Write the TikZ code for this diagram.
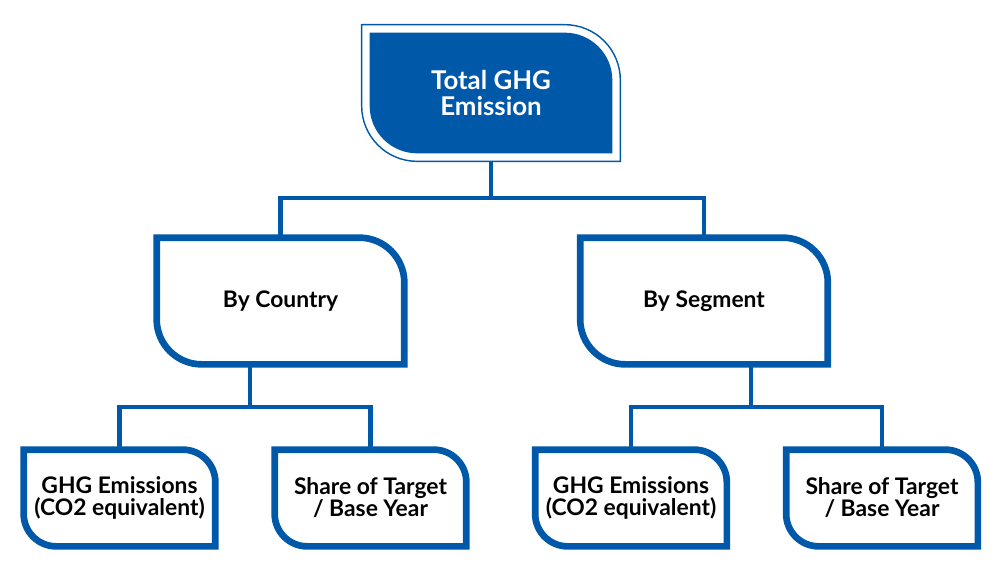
\documentclass[tikz,border=0pt]{standalone}
\usepackage{fontspec}
\setmainfont{Lato}
\usetikzlibrary{backgrounds}
\definecolor{ghgblue}{RGB}{0,88,168}

\begin{document}
\begin{tikzpicture}[
  x=0.02cm, y=-0.02cm,
  every node/.style={font=\bfseries\fontsize{13}{12.5}\selectfont, align=center, inner sep=0pt},
  topbox/.style={minimum width=5.16cm, minimum height=2.72cm, text=white, font=\bfseries\fontsize{14.7}{14.5}\selectfont},
  midbox/.style={minimum width=4.94cm, minimum height=2.52cm},
  leafbox/.style={minimum width=3.82cm, minimum height=1.92cm},
  outline/.style={draw=ghgblue, line width=3.8pt},
  link/.style={draw=ghgblue, line width=2.7pt}
]
  \useasboundingbox (0,0) rectangle (1001,572);

  % boxes
  \node[topbox] (total) at (491,93) {Total GHG\\Emission};
  \node[midbox] (country) at (280.5,301) {By Country};
  \node[midbox] (segment) at (704,301) {By Segment};
  \node[leafbox] (ctryghg) at (119.5,498) {GHG Emissions\\(CO2 equivalent)};
  \node[leafbox] (ctryshare) at (370.5,498) {Share of Target\\/ Base Year};
  \node[leafbox] (segghg) at (631,498) {GHG Emissions\\(CO2 equivalent)};
  \node[leafbox] (segshare) at (882,498) {Share of Target\\/ Base Year};

  % top box: filled shape with thin outer border
  \begin{scope}[on background layer]
    \fill[ghgblue] ([shift={(0.16cm,-0.16cm)}]total.north west)
      -- ([shift={(-1.11cm,-0.16cm)}]total.north east) arc[start angle=90, end angle=0, radius=0.95cm]
      -- ([shift={(-0.16cm,0.16cm)}]total.south east)
      -- ([shift={(1.11cm,0.16cm)}]total.south west) arc[start angle=270, end angle=180, radius=0.95cm]
      -- cycle;
  \end{scope}
  \draw[ghgblue, line width=0.8pt] (total.north west)
    -- ([xshift=-1.11cm]total.north east) arc[start angle=90, end angle=0, radius=1.11cm]
    -- (total.south east)
    -- ([xshift=1.11cm]total.south west) arc[start angle=270, end angle=180, radius=1.11cm]
    -- cycle;

  % outlines of the other boxes
  \foreach \n/\r in {country/0.9cm, segment/0.9cm, ctryghg/0.65cm, ctryshare/0.65cm, segghg/0.65cm, segshare/0.65cm}
    \draw[outline] (\n.north west)
      -- ([xshift=-\r]\n.north east) arc[start angle=90, end angle=0, radius=\r]
      -- (\n.south east)
      -- ([xshift=\r]\n.south west) arc[start angle=270, end angle=180, radius=\r]
      -- cycle;

  % connectors
  \coordinate (topsplit) at (491,198);
  \coordinate (ctrysplit) at (250,407);
  \coordinate (segsplit) at (751,407);
  \draw[link] (total.south) -- (topsplit);
  \draw[link] (country.north) |- (topsplit) -| (segment.north);
  \draw[link] (country.south -| ctrysplit) -- (ctrysplit);
  \draw[link] (ctryghg.north) |- (ctrysplit) -| (ctryshare.north);
  \draw[link] (segment.south -| segsplit) -- (segsplit);
  \draw[link] (segghg.north) |- (segsplit) -| (segshare.north);
\end{tikzpicture}
\end{document}
